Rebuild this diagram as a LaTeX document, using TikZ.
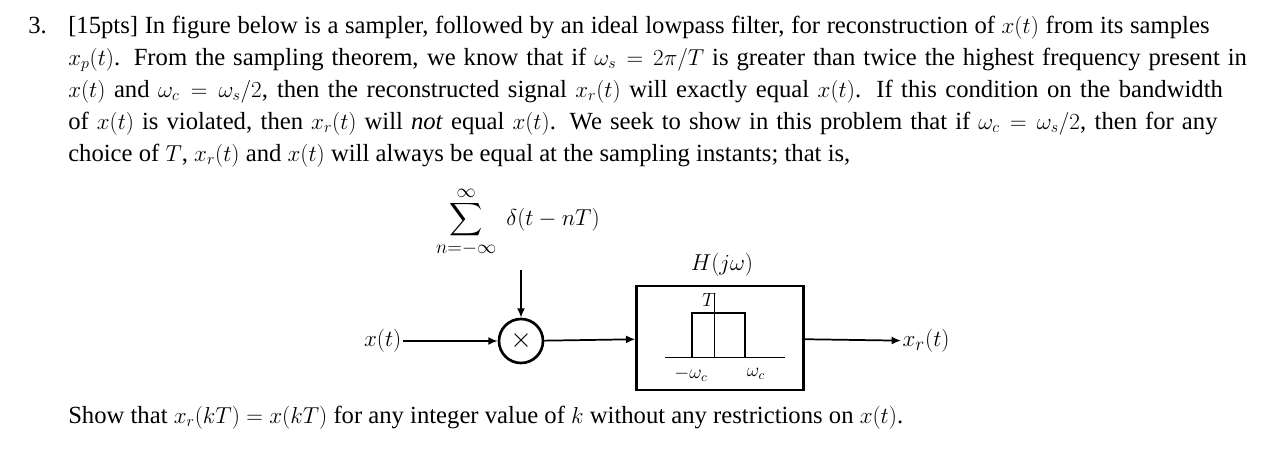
\documentclass[tikz,border=0pt]{standalone}
\usepackage{amsmath}
\usepackage{fontspec}
\setmainfont{Liberation Serif}
\usetikzlibrary{arrows.meta}
\begin{document}
\begin{tikzpicture}[x=0.75pt,y=-0.75pt,
  txt/.style={anchor=base west,inner sep=0pt,font=\fontsize{18.5}{22}\selectfont},
  lbl/.style={inner sep=1pt,font=\fontsize{19}{22}\selectfont},
  sm/.style={inner sep=1pt,font=\fontsize{14}{16}\selectfont},
  sig/.style={line width=1.3pt,-{Latex[length=7pt,width=6pt]}},
  thick2/.style={line width=2pt}]
\useasboundingbox (0,0) rectangle (1270,468);
\node[txt] (num) at (28,33) {3.};
\node[txt] (l1) at (68,33) {\makebox[856pt][s]{[15pts] In figure below is a sampler, followed by an ideal lowpass filter, for reconstruction of $x(t)$ from its samples}};
\node[txt] (l2) at (68,65) {\makebox[884pt][s]{$x_p(t)$. From the sampling theorem, we know that if $\omega_s=2\pi/T$ is greater than twice the highest frequency present in}};
\node[txt] (l3) at (68,97) {\makebox[866pt][s]{$x(t)$ and $\omega_c=\omega_s/2$, then the reconstructed signal $x_r(t)$ will exactly equal $x(t)$. If this condition on the bandwidth}};
\node[txt] (l4) at (68,129) {\makebox[862pt][s]{of $x(t)$ is violated, then $x_r(t)$ will \emph{not} equal $x(t)$. We seek to show in this problem that if $\omega_c=\omega_s/2$, then for any}};
\node[txt] (l5) at (68,161) {choice of $T$, $x_r(t)$ and $x(t)$ will always be equal at the sampling instants; that is,};
\node[txt] (l6) at (68,423) {Show that $x_r(kT)=x(kT)$ for any integer value of $k$ without any restrictions on $x(t)$.};
% diagram
\node[lbl] (sum) at (518,222) {$\displaystyle\sum_{n=-\infty}^{\infty}\;\delta(t-nT)$};
\coordinate (top) at (521,270);
\node[draw,circle,thick2,minimum size=33pt,inner sep=0pt,font=\fontsize{20}{22}\selectfont] (mul) at (521,341) {$\times$};
\node[lbl,anchor=east] (x) at (403,341) {$x(t)$};
\node[draw,thick2,minimum width=125pt,minimum height=78pt,inner sep=0pt] (H) at (720,338) {};
\node[lbl] (Hl) at (722,265) {$H(j\omega)$};
\node[lbl,anchor=west] (y) at (901,341) {$x_r(t)$};
\draw[sig] (x) -- (mul);
\draw[sig] (top) -- (mul);
\draw[sig] (mul) -- (H);
\draw[sig] (H) -- (y);
% filter graph
\draw[line width=0.4pt] (665,357) -- (785,357);
\draw[line width=0.4pt] (714,293) -- (714,357);
\draw[line width=1pt] (692,357) -- (692,313) -- (745,313) -- (745,357);
\node[sm] (T) at (709,300) {$T$};
\node[sm] (wl) at (691,374) {$-\omega_c$};
\node[sm] (wr) at (756,374) {$\omega_c$};
\end{tikzpicture}
\end{document}
